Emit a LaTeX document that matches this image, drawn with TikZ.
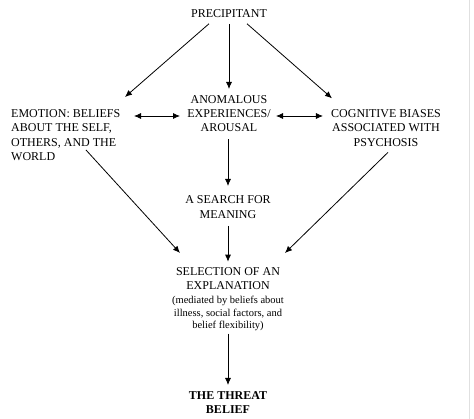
\documentclass[tikz,border=0pt]{standalone}
\usepackage{fontspec}
\setmainfont{Liberation Serif}
\usepackage{tikz}
\usetikzlibrary{arrows.meta}
\tikzset{
	stagebox/.style={inner sep=0pt,align=center,font=\fontsize{12}{14.3}\selectfont},
	stageleft/.style={stagebox,align=left},
	notebox/.style={inner sep=0pt,align=center,font=\fontsize{10.5}{12.5}\selectfont},
	beliefbox/.style={inner sep=0pt,align=center,font=\fontsize{12}{13.3}\selectfont\bfseries},
	linkarrow/.style={draw=black,line width=0.8pt,-{Latex[length=7pt,width=6pt]}},
	linkboth/.style={draw=black,line width=0.8pt,{Latex[length=7pt,width=6pt]}-{Latex[length=7pt,width=6pt]}}
}
\begin{document}
\begin{tikzpicture}[x=1pt,y=-1pt]
				\useasboundingbox[fill=white] (0,0) rectangle (474,419);
				\draw[black!12,line width=1pt] (469,0) -- (469,419);
				\node[stagebox,anchor=north] (prec) at (229,9.3) {PRECIPITANT};
				\node[stagebox,anchor=north] (anom) at (229,95) {ANOMALOUS\\EXPERIENCES/\\AROUSAL};
				\node[stageleft,anchor=north west] (emot) at (11,109.5) {EMOTION: BELIEFS\\ABOUT THE SELF,\\OTHERS, AND THE\\WORLD};
				\node[stagebox,anchor=north] (cog) at (386,109.3) {COGNITIVE BIASES\\ASSOCIATED WITH\\PSYCHOSIS};
				\node[stagebox,anchor=north] (search) at (228,195.7) {A SEARCH FOR\\MEANING};
				\node[stagebox,anchor=north] (select) at (228,267.3) {SELECTION OF AN\\EXPLANATION};
				\node[notebox,anchor=north] (note) at (228,296) {(mediated by beliefs about\\illness, social factors, and\\belief flexibility)};
				\node[beliefbox,anchor=north] (threat) at (228,391.7) {THE THREAT\\BELIEF};
				% precipitant to the three sources
				\draw[linkarrow] ([xshift=-20pt,yshift=-6pt]prec.south) -- ([xshift=114pt,yshift=12.5pt]emot.north west);
				\draw[linkarrow] ([yshift=-6pt]prec.south) -- ([yshift=6pt]anom.north);
				\draw[linkarrow] ([xshift=18pt,yshift=-6pt]prec.south) -- ([xshift=-54pt,yshift=11pt]cog.north);
				\draw[linkboth] ([xshift=123pt,yshift=-6.5pt]emot.north west) -- ([xshift=-49pt,yshift=-21pt]anom.north);
				\draw[linkboth] ([xshift=47pt,yshift=-21pt]anom.north) -- ([xshift=-8pt,yshift=-6.7pt]cog.north west);
				% down the middle
				\draw[linkarrow] ([xshift=-1pt,yshift=-7pt]anom.south) -- ([yshift=9.7pt]search.north);
				\draw[linkarrow] ([yshift=-7.3pt]search.south) -- ([yshift=5.6pt]select.north);
				\draw[linkarrow] ([xshift=75pt,yshift=-40.5pt]emot.north west) -- ([xshift=-48pt,yshift=14.3pt]select.north);
				\draw[linkarrow] ([xshift=2pt,yshift=-6pt]cog.south) -- ([xshift=57pt,yshift=14.3pt]select.north);
				\draw[linkarrow] ([yshift=-2.5pt]note.south) -- ([yshift=6.7pt]threat.north);
			\end{tikzpicture}
\end{document}
